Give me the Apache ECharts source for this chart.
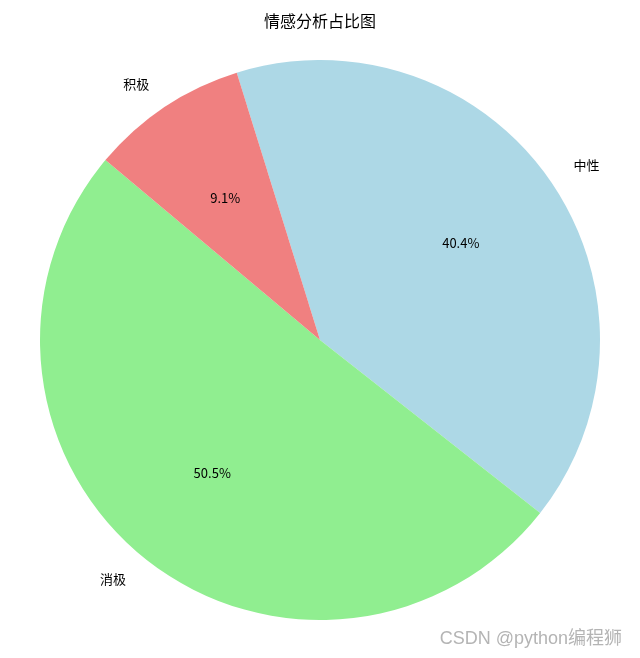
<!DOCTYPE html>
<html>
<head>
<meta charset="utf-8">
<script src="https://cdn.jsdelivr.net/npm/echarts@6/dist/echarts.min.js"></script>
<style>html,body{margin:0;padding:0;background:#fff;}#c{width:640px;height:658px;}</style>
</head>
<body>
<div id="c"></div>
<script>
// Data (drawn clockwise starting at the 中性/积极 boundary)
const categories = ['中性', '消极', '积极'];
const counts = [40, 50, 9];
const colors = ['#ADD8E6', '#90EE90', '#F08080'];
const titleText = '情感分析占比图';
const watermark = 'CSDN @python编程狮';

const total = counts.reduce((a, b) => a + b, 0);
const startAngle = 107.3;
const cjk = '"Noto Sans CJK SC", sans-serif';

const chart = echarts.init(document.getElementById('c'));
chart.setOption({
  animation: false,
  backgroundColor: '#ffffff',
  title: [
    { text: titleText, left: 'center', top: 8,
      textStyle: { fontFamily: cjk, fontSize: 16, fontWeight: 'normal', color: '#000' } },
    { text: watermark, right: 13, bottom: 5,
      textStyle: { fontFamily: '"Liberation Sans", "Noto Sans CJK SC", sans-serif', fontSize: 18, fontWeight: 'normal', color: '#b4b4b4' } }
  ],
  series: [
    {
      type: 'pie',
      center: [320, 340],
      radius: [0, 280],
      startAngle: startAngle,
      clockwise: true,
      avoidLabelOverlap: false,
      silent: true,
      label: {
        show: true, position: 'outside', formatter: '{b}',
        fontFamily: cjk, fontSize: 13, color: '#000',
        distanceToLabelLine: 0
      },
      labelLine: { show: false, length: 28, length2: 0 },
      emphasis: { disabled: true },
      data: categories.map((c, i) => ({ name: c, value: counts[i], itemStyle: { color: colors[i] } }))
    },
    {
      type: 'pie',
      center: [320, 340],
      radius: [160, 176],
      startAngle: startAngle,
      clockwise: true,
      silent: true,
      avoidLabelOverlap: false,
      itemStyle: { color: 'rgba(0,0,0,0)' },
      label: {
        show: true, position: 'inside',
        formatter: p => (p.value / total * 100).toFixed(1) + '%',
        fontFamily: cjk, fontSize: 13, color: '#000'
      },
      labelLine: { show: false },
      emphasis: { disabled: true },
      data: categories.map((c, i) => ({ name: c, value: counts[i] }))
    }
  ]
});
</script>
</body>
</html>
